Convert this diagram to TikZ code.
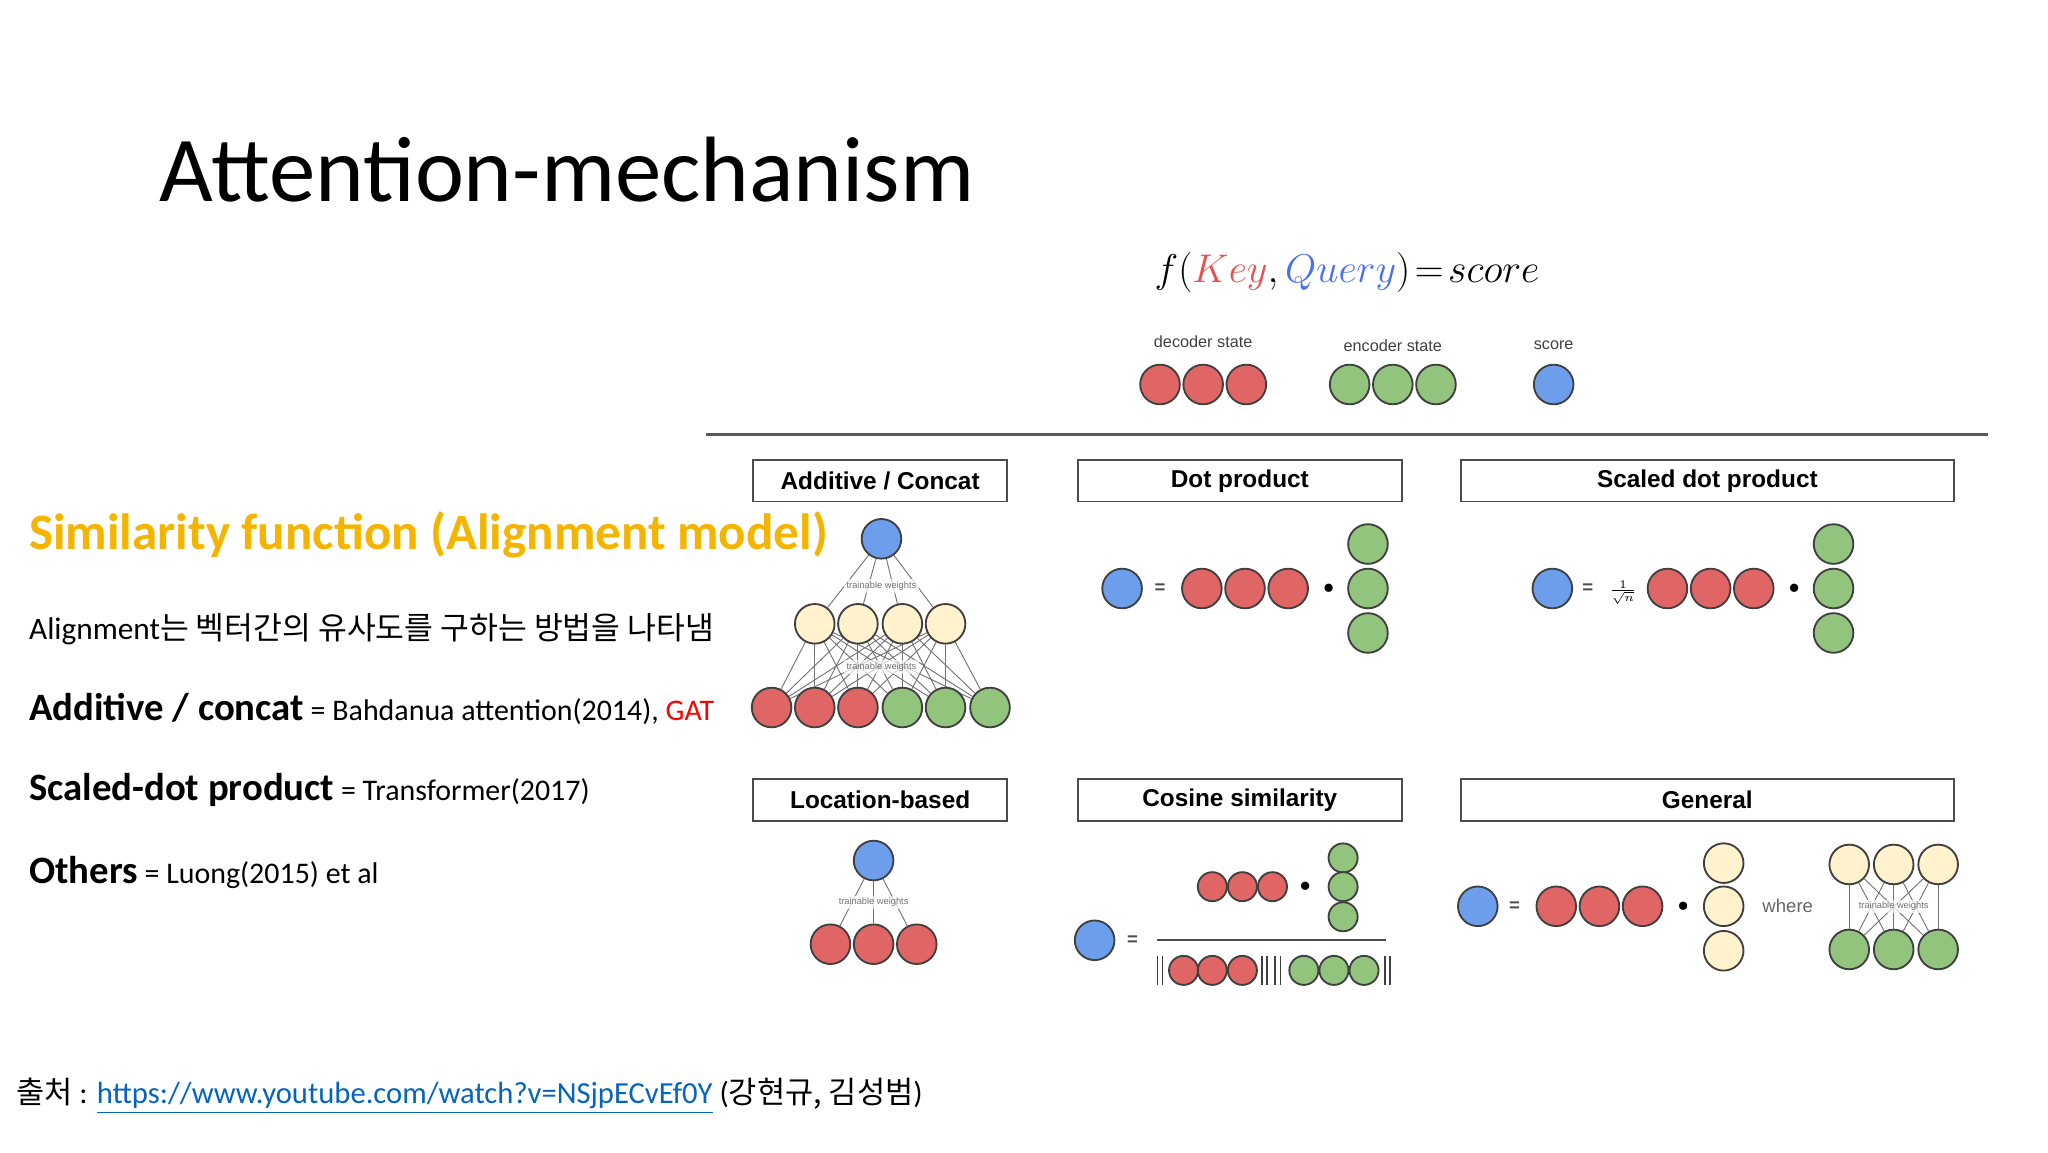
\documentclass[tikz,border=0pt]{standalone}
\usepackage{fontspec}
\usepackage{tikz}
\usetikzlibrary{backgrounds}
\setmainfont{Carlito}
\newfontfamily\cjk{Noto Sans CJK KR}
\newfontfamily\boxfont{Liberation Sans}
\definecolor{rfill}{HTML}{E06666}
\definecolor{gfill}{HTML}{93C47D}
\definecolor{bfill}{HTML}{6D9EEB}
\definecolor{yfill}{HTML}{FFF2CC}
\definecolor{ttlorange}{HTML}{F5B400}
\definecolor{linkblue}{HTML}{0563C1}
\tikzset{
	ball/.style={circle, draw=black!75, line width=0.8pt, minimum size=0.6cm, inner sep=0pt},
	sball/.style={ball, minimum size=0.44cm},
	rb/.style={fill=rfill}, gb/.style={fill=gfill}, bb/.style={fill=bfill}, yb/.style={fill=yfill},
	hdr/.style={draw=black!70, line width=0.8pt, font=\boxfont\bfseries\fontsize{10.5}{12}\selectfont, inner sep=0pt},
	tw/.style={font=\boxfont\fontsize{4}{4}\selectfont, text=black!55, fill=white, fill opacity=0.7, text opacity=1, inner sep=1pt},
	wire/.style={draw=black!55, line width=0.4pt},
	lbl/.style={font=\boxfont\fontsize{7}{8}\selectfont, text=black!75},
	op/.style={font=\boxfont\bfseries\fontsize{8}{8}\selectfont, text=black!70, inner sep=1pt},
	mul/.style={font=\fontsize{9}{9}\selectfont}
}
\begin{document}
\begin{tikzpicture}[x=0.0198cm, y=-0.0198cm]
	\useasboundingbox (0,0) rectangle (1566,880.9);

	% Title and left text
	\node[anchor=west, font=\fontsize{40}{46}\selectfont] (title) at (116,130) {Attention-mechanism};
	\node[anchor=west, font=\bfseries\fontsize{22}{26}\selectfont, text=ttlorange] (sim) at (16,409) {Similarity function (Alignment model)};
	\node[anchor=west, font=\fontsize{13.5}{16}\selectfont] (align) at (16,481) {Alignment{\cjk 는 벡터간의 유사도를 구하는 방법을 나타냄}};
	\node[anchor=west, font=\fontsize{12.9}{16}\selectfont] (addt) at (16,542) {{\bfseries\fontsize{16.7}{20}\selectfont Additive / concat} = Bahdanua attention(2014), \textcolor{red}{GAT}};
	\node[anchor=west, font=\fontsize{12.9}{16}\selectfont] (sdp) at (16,604) {{\bfseries\fontsize{16.7}{20}\selectfont Scaled-dot product} = Transformer(2017)};
	\node[anchor=west, font=\fontsize{12.9}{16}\selectfont] (oth) at (16,667) {{\bfseries\fontsize{16.7}{20}\selectfont Others} = Luong(2015) et al};
	\node[anchor=west, font=\fontsize{13.2}{16}\selectfont] (src) at (6,838) {{\cjk 출처} : \textcolor{linkblue}{\underline{https://www.youtube.com/watch?v=NSjpECvEf0Y}} ({\cjk 강현규, 김성범})};

	% Score formula
	\node[font=\fontsize{16.8}{20}\selectfont] (fkq) at (1030,208) {$f(\textcolor{rfill!80!red}{Key},\textcolor{bfill!70!blue}{Query})\!=\!score$};
	\node[lbl] (dec) at (920,261) {decoder state};
	\node[lbl] (enc) at (1065,264) {encoder state};
	\node[lbl] (scr) at (1188,264) {score};
	\foreach \i/\x in {1/887, 2/920, 3/953} \node[ball, rb] (dr\i) at (\x,294) {};
	\foreach \i/\x in {1/1032, 2/1065, 3/1098} \node[ball, gb] (eg\i) at (\x,294) {};
	\node[ball, bb] (sb) at (1188,294) {};
	\coordinate (sepl) at (540,332);
	\coordinate (sepr) at (1520,332);
	\draw[black!65, line width=1.2pt] (sepl) -- (sepr);

	% Headers
	\foreach \n/\xa/\xb/\ya/\t in {h1/576/770/351/{Additive / Concat}, h2/824/1072/351/Dot product, h3/1117/1494/351/Scaled dot product,
		h4/576/770/595/Location-based, h5/824/1072/595/Cosine similarity, h6/1117/1494/595/General}
		\node[hdr, minimum width={(\xb-\xa)*0.0198cm}, minimum height=0.63cm, anchor=north] (\n) at ({(\xa+\xb)/2},\ya) {\t};

	% Additive / Concat
	\node[ball, bb] (ab) at (674,412) {};
	\foreach \i/\x in {1/623, 2/656, 3/690, 4/723} \node[ball, yb] (ay\i) at (\x,477) {};
	\foreach \i/\x in {1/590, 2/623, 3/656} \node[ball, rb] (ax\i) at (\x,541) {};
	\foreach \i/\x in {4/690, 5/723, 6/757} \node[ball, gb] (ax\i) at (\x,541) {};
	\begin{scope}[on background layer]
		\foreach \i in {1,...,4} {
			\draw[wire] (ab) -- (ay\i);
			\foreach \j in {1,...,6} \draw[wire] (ay\i) -- (ax\j);
		}
	\end{scope}
	\node[tw] (atw1) at (674,448) {trainable weights};
	\node[tw] (atw2) at (674,510) {trainable weights};

	% Dot product
	\node[ball, bb] (db) at (858,450) {};
	\node[op] (deq) at (887,450) {=};
	\foreach \i/\x in {1/919, 2/952, 3/985} \node[ball, rb] (dpr\i) at (\x,450) {};
	\node[mul] (ddot) at (1016,450) {$\bullet$};
	\foreach \i/\y in {1/416, 2/450, 3/484} \node[ball, gb] (dpg\i) at (1046,\y) {};

	% Scaled dot product
	\node[ball, bb] (sdb) at (1187,450) {};
	\node[op] (sdeq) at (1214,450) {=};
	\node[font=\fontsize{7}{7}\selectfont, inner sep=0pt] (sdfr) at (1241,453) {$\frac{1}{\sqrt{n}}$};
	\foreach \i/\x in {1/1275, 2/1308, 3/1341} \node[ball, rb] (sdr\i) at (\x,450) {};
	\node[mul] (sddot) at (1372,450) {$\bullet$};
	\foreach \i/\y in {1/416, 2/450, 3/484} \node[ball, gb] (sdg\i) at (1402,\y) {};

	% Location-based
	\node[ball, bb] (lb) at (668,658) {};
	\foreach \i/\x in {1/635, 2/668, 3/701} \node[ball, rb] (lr\i) at (\x,722) {};
	\begin{scope}[on background layer]
		\foreach \i in {1,...,3} \draw[wire] (lb) -- (lr\i);
	\end{scope}
	\node[tw] (ltw) at (668,690) {trainable weights};

	% Cosine similarity
	\foreach \i/\x in {1/927, 2/950, 3/973} \node[sball, rb] (cr\i) at (\x,678) {};
	\node[mul] (cdot) at (998,678) {$\bullet$};
	\foreach \i/\y in {1/656, 2/678, 3/701} \node[sball, gb] (cg\i) at (1027,\y) {};
	\node[ball, bb] (cb) at (837,719) {};
	\node[op] (ceq) at (866,719) {=};
	\coordinate (cfl) at (885,719);
	\coordinate (cfr) at (1060,719);
	\draw[black!70, line width=0.9pt] (cfl) -- (cfr);
	\foreach \i/\x in {1/905, 2/927, 3/950} \node[sball, rb] (cnr\i) at (\x,742) {};
	\foreach \i/\x in {1/997, 2/1020, 3/1043} \node[sball, gb] (cng\i) at (\x,742) {};
	\foreach \x in {885, 889, 965, 969, 975, 979, 1059, 1063}
		\draw[black!75, line width=0.7pt] (\x,731) -- (\x,753);

	% General
	\node[ball, bb] (gb) at (1130,693) {};
	\node[op] (geq) at (1158,693) {=};
	\foreach \i/\x in {1/1190, 2/1223, 3/1256} \node[ball, rb] (gr\i) at (\x,693) {};
	\node[mul] (gdot) at (1287,693) {$\bullet$};
	\foreach \i/\y in {1/660, 2/693, 3/727} \node[ball, yb] (gy\i) at (1318,\y) {};
	\node[lbl, text=black!60, font=\boxfont\fontsize{8}{8}\selectfont] (where) at (1367,693) {where};
	\foreach \i/\x in {1/1414, 2/1448, 3/1482} {
		\node[ball, yb] (wy\i) at (\x,661) {};
		\node[ball, gb] (wg\i) at (\x,726) {};
	}
	\begin{scope}[on background layer]
		\foreach \i in {1,...,3} \foreach \j in {1,...,3} \draw[wire] (wy\i) -- (wg\j);
	\end{scope}
	\node[tw] (gtw) at (1448,693) {trainable weights};
\end{tikzpicture}
\end{document}
